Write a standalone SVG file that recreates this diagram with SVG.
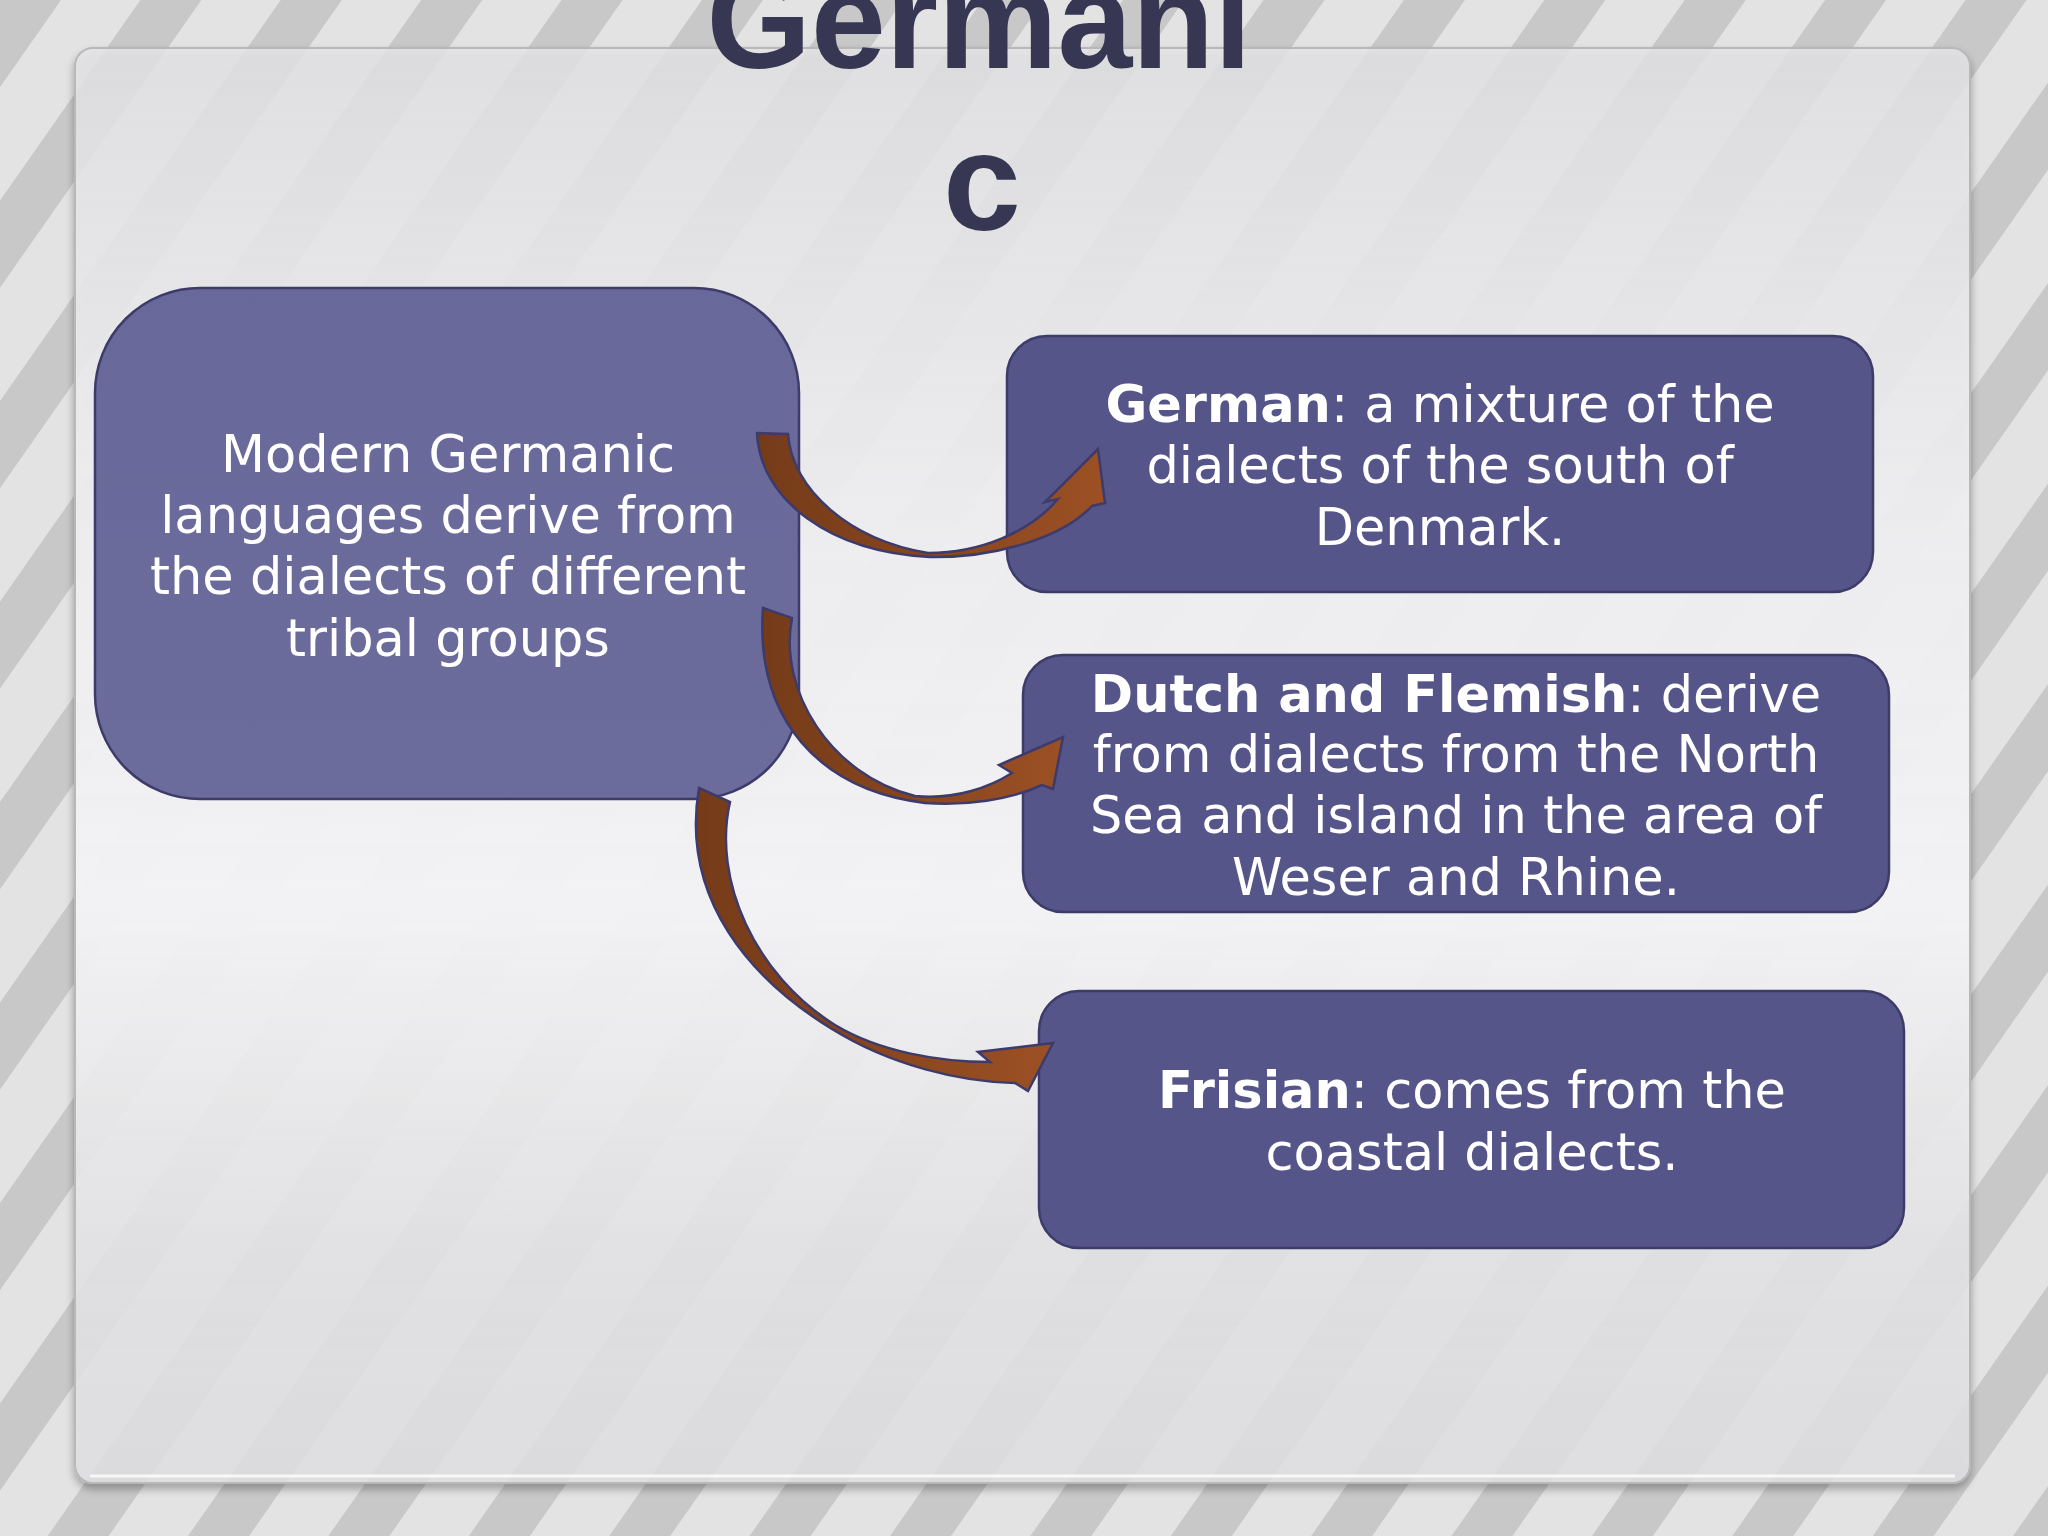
<svg xmlns="http://www.w3.org/2000/svg" width="2048" height="1536" viewBox="0 0 2048 1536">
<defs>
<pattern id="stripes" patternUnits="userSpaceOnUse" width="115" height="200" patternTransform="rotate(35)">
<rect x="0" y="0" width="115" height="200" fill="#e3e3e3"/>
<rect x="0" y="0" width="50" height="200" fill="#c8c8c8"/>
</pattern>
<linearGradient id="panelGrad" x1="0" y1="0" x2="0" y2="1">
<stop offset="0" stop-color="#e6e6e8" stop-opacity="0.8"/>
<stop offset="0.35" stop-color="#f0f0f2" stop-opacity="0.95"/>
<stop offset="0.6" stop-color="#f3f3f5" stop-opacity="0.98"/>
<stop offset="0.85" stop-color="#e6e6e8" stop-opacity="0.86"/>
<stop offset="1" stop-color="#e4e4e6" stop-opacity="0.82"/>
</linearGradient>
<linearGradient id="srcGrad" x1="0" y1="0" x2="0" y2="1">
<stop offset="0" stop-color="#68689a"/>
<stop offset="1" stop-color="#6c6c9c"/>
</linearGradient>
<linearGradient id="arrowGrad" x1="0" y1="0" x2="1" y2="0">
<stop offset="0" stop-color="#753b18"/>
<stop offset="1" stop-color="#9c5024"/>
</linearGradient>
<filter id="shadow" x="-5%" y="-5%" width="110%" height="110%">
<feGaussianBlur in="SourceAlpha" stdDeviation="4"/>
<feOffset dy="5"/>
<feComponentTransfer><feFuncA type="linear" slope="0.35"/></feComponentTransfer>
<feMerge><feMergeNode/><feMergeNode in="SourceGraphic"/></feMerge>
</filter>
<style>
.node rect { stroke: #3d3c69; stroke-width: 2.5; }
.src { fill: url(#srcGrad); }
.dst { fill: #55558a; }
.txt { font-family: "DejaVu Sans", Verdana, sans-serif; font-size: 51px; fill: #ffffff; text-anchor: middle; }
.b { font-weight: bold; }
.arrow { fill: url(#arrowGrad); stroke: #3d3a6c; stroke-width: 2.5; stroke-linejoin: miter; }
.title { font-family: "Liberation Sans", Arial, sans-serif; font-weight: bold; font-size: 140px; fill: #373754; text-anchor: middle; }
</style>
</defs>
<rect x="0" y="0" width="2048" height="1536" fill="url(#stripes)"/>
<g id="panel">
<rect x="75" y="48" width="1895" height="1435" rx="18" fill="url(#panelGrad)" stroke="#b8b8ba" stroke-width="2" filter="url(#shadow)"/>
<line x1="90" y1="1476" x2="1955" y2="1476" stroke="#ffffff" stroke-width="3" opacity="0.8"/>
</g>
<g id="title">
<text class="title" x="979" y="68" textLength="545" lengthAdjust="spacingAndGlyphs">Germani</text>
<text class="title" x="982" y="230">c</text>
</g>
<g id="node-source" class="node">
<rect class="src" x="95" y="288" width="704" height="511" rx="105"/>
<text class="txt" x="448" y="472">Modern Germanic</text>
<text class="txt" x="448" y="533">languages derive from</text>
<text class="txt" x="448" y="594">the dialects of different</text>
<text class="txt" x="448" y="656">tribal groups</text>
</g>
<g id="node-german" class="node">
<rect class="dst" x="1007" y="336" width="866" height="256" rx="40"/>
<text class="txt" x="1440" y="422"><tspan class="b">German</tspan>: a mixture of the</text>
<text class="txt" x="1440" y="483">dialects of the south of</text>
<text class="txt" x="1440" y="545">Denmark.</text>
</g>
<g id="node-dutch" class="node">
<rect class="dst" x="1023" y="655" width="866" height="257" rx="40"/>
<text class="txt" x="1456" y="712"><tspan class="b">Dutch and Flemish</tspan>: derive</text>
<text class="txt" x="1456" y="772">from dialects from the North</text>
<text class="txt" x="1456" y="833">Sea and island in the area of</text>
<text class="txt" x="1456" y="895">Weser and Rhine.</text>
</g>
<g id="node-frisian" class="node">
<rect class="dst" x="1039" y="991" width="865" height="257" rx="40"/>
<text class="txt" x="1472" y="1108"><tspan class="b">Frisian</tspan>: comes from the</text>
<text class="txt" x="1472" y="1170">coastal dialects.</text>
</g>
<g id="connectors">
<path class="arrow" d="M757,433 L788,434 C792,490 850,540 928,553 C980,553 1030,532 1058,499 L1045,502 L1098,449 L1105,503 L1092,506 C1060,540 990,558 930,557 C830,552 760,500 757,433 Z"/>
<path class="arrow" d="M763,608 L792,618 C778,690 830,775 915,796 C955,800 990,787 1012,773 L999,765 L1063,737 L1053,789 L1042,785 C1010,800 965,806 925,803 C820,790 755,720 763,608 Z"/>
<path class="arrow" d="M699,788 L730,802 C712,880 755,975 835,1025 C880,1052 940,1062 990,1062 L978,1052 L1053,1043 L1028,1091 L1015,1083 C960,1082 890,1065 832,1029 C752,980 680,900 699,788 Z"/>
</g>
</svg>
